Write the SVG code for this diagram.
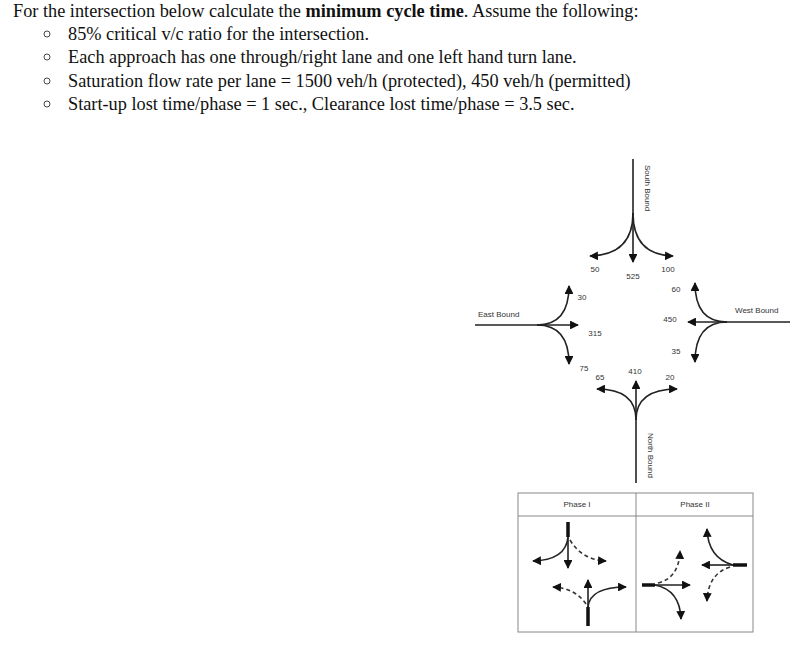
<svg xmlns="http://www.w3.org/2000/svg" width="801" height="672" viewBox="0 0 801 672">
<style>
.t{font-family:"Liberation Serif",serif;font-size:18.3px;fill:#111}
.s{font-family:"Liberation Sans",Arial,sans-serif;font-size:8px;fill:#333}
.l{fill:none;stroke:#222;stroke-width:1.6}
.a{fill:none;stroke:#222;stroke-width:1.6;marker-end:url(#ah)}
.d{fill:none;stroke:#333;stroke-width:1.6;stroke-dasharray:4,3;marker-end:url(#ah)}
.k{stroke:#111;stroke-width:3.5}
.b{fill:none;stroke:#333;stroke-width:0.9}
.box{fill:none;stroke:#888;stroke-width:1}
</style>
<defs>
<marker id="ah" viewBox="0 0 10 10" refX="9" refY="5" markerWidth="5.5" markerHeight="5.5" orient="auto" markerUnits="strokeWidth">
<path d="M0,0 L10,5 L0,10 z" fill="#111"/>
</marker>
</defs>
<rect width="801" height="672" fill="#fff"/>
<g id="text">
<text class="t" x="13" y="17">For the intersection below calculate the <tspan font-weight="bold">minimum cycle time</tspan>.  Assume the following:</text>
<circle class="b" cx="47" cy="34" r="3"/><text class="t" x="68" y="40">85% critical v/c ratio for the intersection.</text>
<circle class="b" cx="47" cy="57" r="3"/><text class="t" x="68" y="63">Each approach has one through/right lane and one left hand turn lane.</text>
<circle class="b" cx="47" cy="81" r="3"/><text class="t" x="68" y="87">Saturation flow rate per lane = 1500 veh/h (protected), 450 veh/h (permitted)</text>
<circle class="b" cx="47" cy="104" r="3"/><text class="t" x="68" y="110">Start-up lost time/phase = 1 sec., Clearance lost time/phase = 3.5 sec.</text>
</g>
<g id="connectors">
<line class="l" x1="633" y1="159" x2="633" y2="213"/>
<line class="a" x1="633" y1="213" x2="633" y2="262"/>
<path class="a" d="M633,213 Q633,255 590,256"/>
<path class="a" d="M633,213 Q633,255 673,256"/>
<line class="l" x1="475" y1="325" x2="537" y2="325"/>
<line class="a" x1="537" y1="325" x2="578" y2="325"/>
<path class="a" d="M537,325 Q569,325 569,286"/>
<path class="a" d="M537,325 Q569,325 569,364"/>
<line class="l" x1="790" y1="322" x2="727" y2="322"/>
<line class="a" x1="727" y1="322" x2="688" y2="322"/>
<path class="a" d="M727,322 Q695,322 695,283"/>
<path class="a" d="M727,322 Q695,322 695,362"/>
<line class="l" x1="636" y1="483" x2="636" y2="420"/>
<line class="a" x1="636" y1="420" x2="636" y2="381"/>
<path class="a" d="M636,420 Q636,389 597,389"/>
<path class="a" d="M636,420 Q636,389 677,389"/>
</g>
<g id="labels">
<text class="s" transform="translate(645,165) rotate(90)">South Bound</text>
<text class="s" transform="translate(648,433) rotate(90)">North Bound</text>
<text class="s" x="478" y="317">East Bound</text>
<text class="s" x="735" y="313">West Bound</text>
<text class="s" x="595" y="272" text-anchor="middle">50</text>
<text class="s" x="633" y="279" text-anchor="middle">525</text>
<text class="s" x="668" y="272" text-anchor="middle">100</text>
<text class="s" x="582" y="300" text-anchor="middle">30</text>
<text class="s" x="595" y="336" text-anchor="middle">315</text>
<text class="s" x="584" y="371" text-anchor="middle">75</text>
<text class="s" x="600" y="380" text-anchor="middle">65</text>
<text class="s" x="635" y="374" text-anchor="middle">410</text>
<text class="s" x="670" y="380" text-anchor="middle">20</text>
<text class="s" x="676" y="292" text-anchor="middle">60</text>
<text class="s" x="670" y="322" text-anchor="middle">450</text>
<text class="s" x="676" y="354" text-anchor="middle">35</text>
</g>
<g id="phase-table">
<rect class="box" x="518" y="493" width="235" height="139"/>
<line class="box" x1="518" y1="516" x2="753" y2="516"/>
<line class="box" x1="636" y1="493" x2="636" y2="632"/>
<text class="s" x="577" y="507" text-anchor="middle">Phase I</text>
<text class="s" x="695" y="507" text-anchor="middle">Phase II</text>
</g>
<g id="phase1">
<line class="k" x1="568" y1="522" x2="568" y2="537"/>
<line class="a" x1="568" y1="537" x2="568" y2="568"/>
<path class="a" d="M568,537 Q566,560 533,561"/>
<path class="d" d="M570,540 Q582,560 606,561"/>
<line class="k" x1="588" y1="626" x2="588" y2="607"/>
<line class="a" x1="588" y1="607" x2="588" y2="580"/>
<path class="a" d="M588,607 Q590,587 626,587"/>
<path class="d" d="M586,604 Q575,588 553,587"/>
</g>
<g id="phase2">
<line class="k" x1="642" y1="585" x2="655" y2="585"/>
<line class="a" x1="655" y1="585" x2="690" y2="585"/>
<path class="a" d="M655,585 Q680,590 681,619"/>
<path class="d" d="M658,583 Q679,578 680,551"/>
<line class="k" x1="747" y1="565" x2="733" y2="565"/>
<line class="a" x1="733" y1="565" x2="702" y2="565"/>
<path class="a" d="M733,565 Q708,558 707,529"/>
<path class="d" d="M730,567 Q708,574 707,601"/>
</g>
</svg>
